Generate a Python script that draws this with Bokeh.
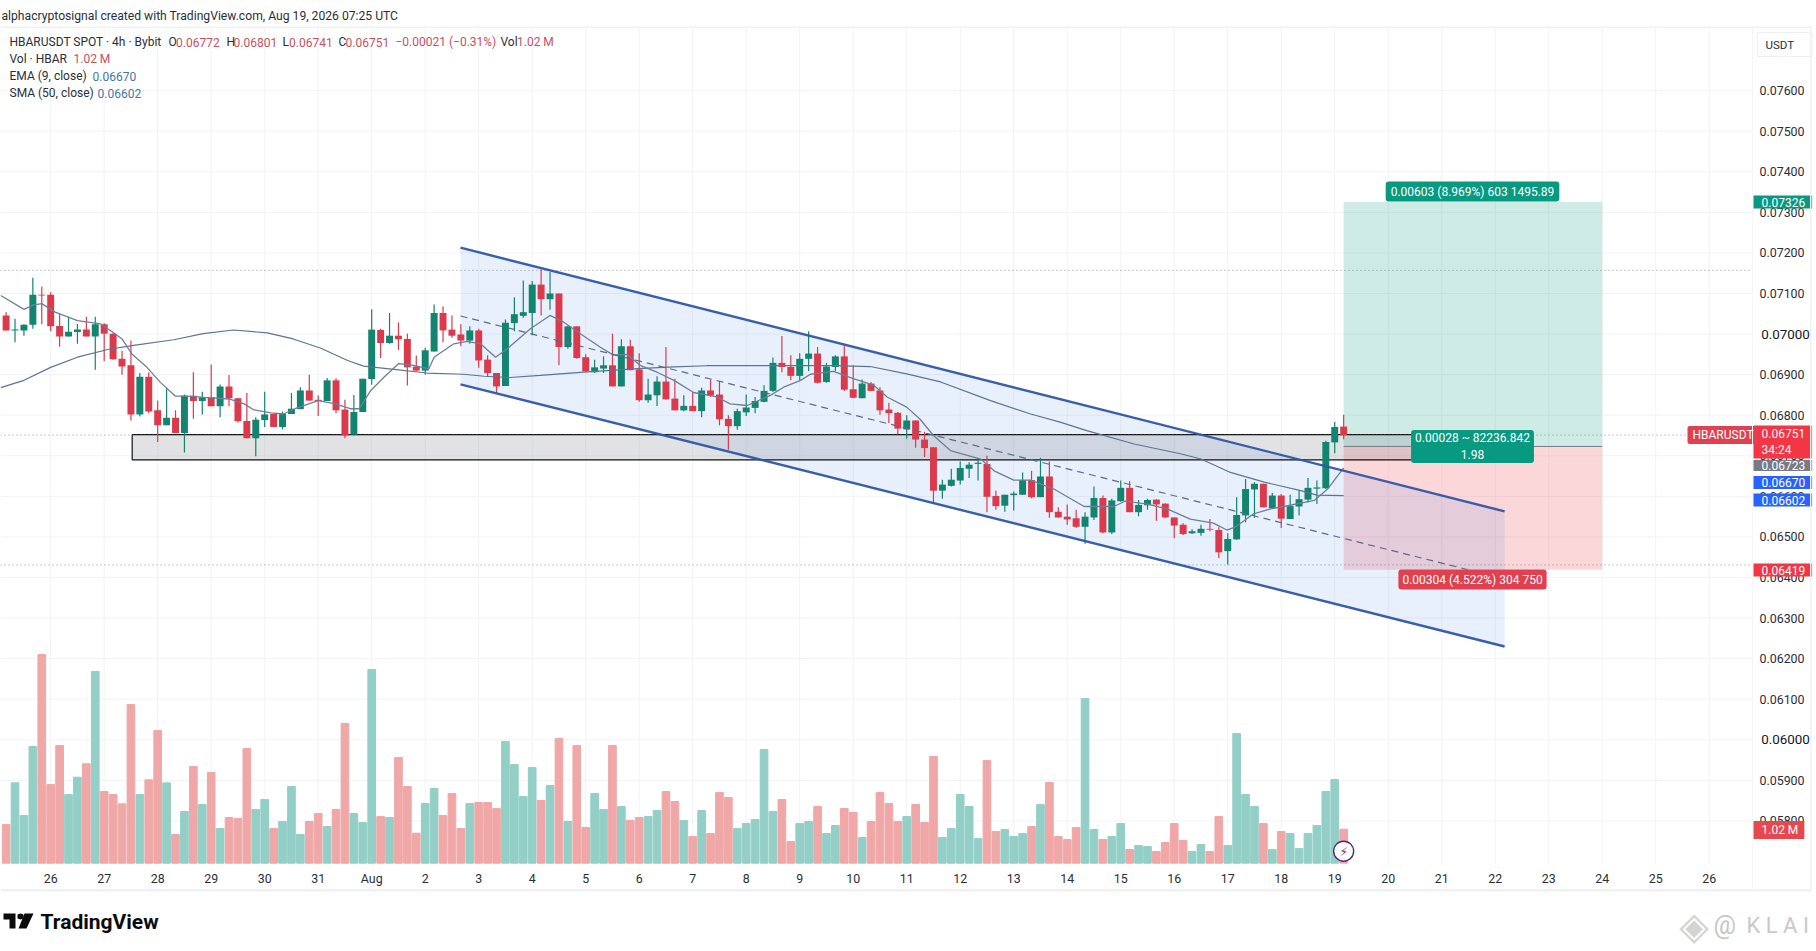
from bokeh.plotting import figure
from bokeh.models import Range1d, LinearAxis, FixedTicker, Label, PolyAnnotation
from bokeh.embed import file_html
from bokeh.resources import INLINE

# ---------- data (prices in 1e-5 USDT, volume in thousands of HBAR) ----------
opens = [7046,7009,7009,7023,7097,7097,7020,6994,7005,7011,
 6994,7024,7001,6939,6923,6802,6895,6812,6775,6794,
 6756,6848,6835,6844,6822,6871,6842,6786,6743,6788,
 6803,6771,6803,6815,6861,6838,6835,6886,6814,6752,
 6808,6889,7010,6978,6996,6988,6920,6910,6957,7052,
 7011,6999,6984,7009,6937,6904,6872,7027,7045,7052,
 7122,7086,7100,6968,7019,6943,6906,6915,6923,6871,
 6970,6913,6837,6849,6883,6841,6812,6823,6810,6861,
 6851,6791,6773,6807,6818,6833,6860,6929,6919,6897,
 6939,6952,6882,6919,6945,6864,6842,6878,6861,6814,
 6806,6765,6787,6740,6721,6614,6626,6639,6668,6680,
 6680,6601,6577,6603,6604,6640,6598,6649,6562,6550,
 6546,6525,6548,6596,6511,6588,6621,6561,6578,6592,
 6582,6548,6530,6509,6510,6520,6517,6465,6494,6553,
 6617,6631,6571,6602,6544,6575,6592,6619,6620,6733,6772]
highs = [7054,7038,7024,7139,7117,7103,7050,7043,7025,7043,
 7043,7027,7002,6958,6984,6904,6906,6836,6867,6812,
 6851,6906,6858,6925,6876,6899,6843,6855,6795,6858,
 6803,6809,6855,6869,6900,6849,6892,6891,6838,6850,
 6890,7061,7013,7052,7029,7001,6947,6966,7073,7068,
 7046,7024,7019,7013,6948,6904,7036,7091,7132,7131,
 7159,7153,7100,7021,7019,6950,6937,6945,7001,6987,
 6986,6953,6890,6896,6968,6890,6849,6857,6868,6888,
 6884,6800,6816,6851,6845,6874,6942,6995,6948,6953,
 7007,6968,6929,6948,6972,6923,6888,6882,6869,6831,
 6808,6800,6787,6759,6721,6641,6668,6686,6684,6690,
 6700,6614,6604,6612,6659,6663,6695,6686,6573,6580,
 6567,6561,6624,6602,6594,6639,6637,6591,6594,6593,
 6583,6548,6534,6519,6530,6544,6524,6509,6598,6643,
 6635,6631,6608,6606,6604,6614,6645,6639,6737,6783,6801]
lows = [7009,6980,6996,7013,7024,7007,6969,6994,6976,6994,
 6912,6933,6937,6900,6787,6797,6805,6734,6775,6756,
 6708,6791,6802,6822,6795,6822,6782,6743,6699,6771,
 6771,6765,6803,6815,6836,6798,6835,6805,6743,6750,
 6808,6875,6941,6976,6961,6873,6909,6900,6957,6980,
 6991,6970,6976,6917,6894,6855,6872,7007,7040,6997,
 7046,7060,6923,6964,6939,6906,6904,6904,6871,6871,
 6911,6833,6831,6823,6839,6812,6810,6810,6795,6845,
 6775,6715,6764,6798,6805,6832,6857,6906,6886,6886,
 6909,6878,6880,6909,6860,6842,6842,6859,6801,6781,
 6754,6742,6720,6697,6585,6594,6624,6629,6645,6639,
 6561,6567,6562,6565,6604,6595,6598,6547,6547,6530,
 6522,6483,6542,6509,6507,6587,6561,6551,6567,6540,
 6547,6497,6505,6507,6503,6514,6448,6432,6493,6536,
 6547,6573,6569,6522,6544,6553,6585,6581,6618,6706,6741]
closes = [7009,7011,7023,7097,7095,7019,6994,7006,7011,6994,
 7024,7001,6938,6920,6802,6895,6809,6775,6794,6756,
 6848,6835,6844,6822,6871,6842,6785,6743,6789,6802,
 6771,6803,6816,6861,6836,6835,6886,6812,6750,6808,
 6890,7011,6978,6996,6987,6918,6910,6960,7052,7009,
 6996,6984,7009,6935,6904,6871,7028,7049,7054,7122,
 7086,7100,6968,7019,6941,6908,6918,6923,6871,6970,
 6911,6837,6851,6883,6839,6812,6823,6810,6861,6849,
 6790,6773,6810,6819,6835,6860,6929,6919,6897,6939,
 6952,6880,6920,6945,6863,6843,6878,6860,6812,6805,
 6767,6787,6740,6719,6614,6629,6641,6670,6678,6683,
 6599,6576,6604,6607,6640,6598,6649,6561,6548,6543,
 6525,6550,6596,6511,6590,6621,6561,6579,6591,6580,
 6548,6528,6507,6514,6520,6518,6462,6495,6554,6618,
 6631,6573,6602,6545,6576,6593,6621,6622,6734,6771,6751]
volumes = [1160,2410,1430,3500,6260,2360,3530,2060,2580,2980,
 5750,2150,2060,1780,4760,2060,2500,3980,2410,860,
 1550,2900,1760,2720,1040,1370,1340,3440,1610,1910,
 1040,1250,2300,860,1250,1490,1100,1610,4190,1490,
 1220,5810,1400,1370,3170,2300,900,1790,2240,1430,
 2090,1040,1790,1820,1820,1640,3650,2960,2000,2870,
 1880,2330,3740,1250,3530,1070,2090,1610,3530,1700,
 1280,1370,1400,1580,2150,1850,1280,800,1580,890,
 2120,1970,1040,1190,1310,3410,1550,1910,650,1190,
 1250,1700,890,1130,1640,1520,770,1250,2120,1790,
 1250,1400,1760,1220,3200,770,1040,2060,1700,740,
 3080,950,1010,800,890,1100,1760,2420,800,710,
 1070,4940,1010,710,800,1190,410,530,500,350,
 620,1190,680,350,560,350,1400,530,3890,2060,
 1700,1190,410,950,890,440,890,1130,2150,2510,1020]

sma_bar = [0.4,3,6,9,12.4,15.3,19.8,23.1,26.5,30.3,33.2,36.3,39.3,41.1,44.5,48.2,52.3,54.6,57.5,60.9,65.8,71.8,75.9,79.6,87.1,93.8,97.9,102,105.8,111.4,115.9,119.2,122.2,127.5,132.7,135,138.3,142.1,146.2,148,151]
sma_val = [6868,6886,6918,6943,6962,6972,6986,7001,7010,7003,6988,6965,6935,6921,6913,6904,6901,6896,6893,6898,6906,6915,6919,6922,6922,6922,6920,6902,6882,6836,6803,6783,6762,6729,6705,6692,6659,6635,6614,6603,6602]
ema_bar = [0.4,3,4.1,5,6.5,9,11.6,12.7,14,15.1,16.8,18.3,20,21.3,23.2,26,27.7,28.8,30.7,32.1,33.4,36,37.9,39.6,40.6,41.9,43.4,45,46.7,48.4,49,51.2,52.7,54.2,55.9,57.2,59.8,62,63.5,65.4,67.6,69.1,70.6,72.1,74,75.9,78.1,80.7,82.2,84.1,86.7,88.2,90.1,91.2,93.8,96,98.3,99.8,102,103.5,105,106.9,110.3,111.8,114,115.9,118.5,121.9,123,125.2,126.5,129,131.2,133.8,136.4,137.9,138.9,140.9,142.8,144.3,147.7,149.2,151]
ema_val = [7095,7061,7072,7075,7054,7033,7025,7009,6988,6951,6918,6881,6847,6847,6844,6840,6828,6813,6806,6803,6816,6836,6828,6816,6816,6861,6894,6927,6923,6914,6943,6976,6982,6976,6943,6964,7013,7046,7030,7001,6968,6948,6950,6923,6906,6886,6856,6845,6828,6824,6849,6869,6886,6901,6908,6890,6874,6845,6820,6790,6750,6713,6692,6663,6640,6640,6618,6575,6575,6575,6588,6581,6569,6544,6534,6517,6525,6557,6569,6575,6590,6618,6670]

price_labels = ["0.05800","0.05900","0.06000","0.06100","0.06200","0.06300","0.06400","0.06500","0.06600","0.06700","0.06800","0.06900","0.07000","0.07100","0.07200","0.07300","0.07400","0.07500","0.07600"]
bold_prices = ["0.06000","0.07000"]
day_labels = ["26","27","28","29","30","31","Aug","2","3","4","5","6","7","8","9","10","11","12","13","14","15","16","17","18","19","20","21","22","23","24","25","26"]
day_bars = [6 + 6 * k for k in range(len(day_labels))]

channel_bar = [51.96, 169.05]
channel_top = [0.07213, 0.06563]
channel_bot = [0.06876, 0.0623]
zone_bar = [15.14, 159.6]
zone_price = [0.0669, 0.06752]
level_prices = [0.07157, 0.06751, 0.06431]
trade_bar = [151, 180]
trade_target, trade_entry, trade_stop = 0.07326, 0.06723, 0.06419

GREEN, RED = "#12846f", "#db3a4d"
VGREEN, VRED = "#93cfc7", "#f0a7a7"
LINE = "#2f55a4"
FONT = "Roboto"
GRID = "#f2f3f5"

def xd(px): return 1 + (px - 5.6) / 8.917
def yd(py): return 0.074 - (py - 171.3) / 40570

# the frame fills the page; the pane edges are at pixel 1752 (right) and 864 (bottom)
XR, YB = xd(1752), yd(864)
YT = yd(27)
p = figure(width=1816, height=951, output_backend="svg", toolbar_location=None,
           x_range=Range1d(xd(0), xd(1816)), y_range=Range1d(yd(951), yd(0)),
           x_axis_location=None, y_axis_location=None,
           min_border_left=0, min_border_right=0, min_border_top=0, min_border_bottom=0,
           outline_line_color=None, background_fill_color="white", border_fill_color="white")
p.grid.visible = False

n = len(opens)
bars = list(range(1, n + 1))
o = [v / 1e5 for v in opens]; h = [v / 1e5 for v in highs]
l = [v / 1e5 for v in lows]; c = [v / 1e5 for v in closes]
up = [a >= b for a, b in zip(closes, opens)]

# axes pinned at the pane edges
ticks = [float(s) for s in price_labels]
ya = LinearAxis(fixed_location=XR, ticker=FixedTicker(ticks=ticks),
                major_label_overrides={float(s): ("" if s in bold_prices else s) for s in price_labels})
xa = LinearAxis(fixed_location=YB, ticker=FixedTicker(ticks=day_bars),
                major_label_overrides=dict(zip(day_bars, day_labels)))
for ax in (xa, ya):
    ax.axis_line_color = None
    ax.major_tick_line_color = None
    ax.minor_tick_line_color = None
    ax.major_label_text_font = FONT
    ax.major_label_text_font_size = "12.4px"
    ax.major_label_text_color = "#2a2e39"
xa.major_label_standoff = 0
ya.major_label_standoff = 1
p.add_layout(ya, "right")
p.add_layout(xa, "below")

# grid rules limited to the pane
p.segment(x0=day_bars, x1=day_bars, y0=YB, y1=YT, line_color=GRID, line_width=1)
p.segment(x0=xd(0), x1=XR, y0=ticks, y1=ticks, line_color=GRID, line_width=1)

# volume on own scale: 30 thousand per pixel, base at pixel 862.7
p.extra_y_ranges["vol"] = Range1d(-(951 - 862.7) * 30, 862.7 * 30)
p.vbar(x=bars, top=volumes, bottom=0, width=0.86, y_range_name="vol",
       color=[VGREEN if u else VRED for u in up])

# position tool, channel fill, zone
p.quad(left=trade_bar[0], right=trade_bar[1], bottom=trade_entry, top=trade_target,
       fill_color="#089981", fill_alpha=0.2, line_color=None)
p.quad(left=trade_bar[0], right=trade_bar[1], bottom=trade_stop, top=trade_entry,
       fill_color="#f23645", fill_alpha=0.2, line_color=None)
p.segment(x0=trade_bar[0], x1=trade_bar[1], y0=trade_entry, y1=trade_entry, line_color="#787b86", line_width=1)
p.patch(x=[channel_bar[0], channel_bar[1], channel_bar[1], channel_bar[0]],
        y=[channel_top[0], channel_top[1], channel_bot[1], channel_bot[0]],
        fill_color="#1f6fe0", fill_alpha=0.1, line_color=None)
p.quad(left=zone_bar[0], right=zone_bar[1], bottom=zone_price[0], top=zone_price[1],
       fill_color="#787b86", fill_alpha=0.22, line_color="#111111", line_width=1.2)
for lv in level_prices:
    p.segment(x0=xd(0), x1=XR, y0=lv, y1=lv, line_color="#8a8d96", line_width=1, line_dash="1 3")

# candles
p.segment(x0=bars, x1=bars, y0=l, y1=h, line_width=1.2, color=[GREEN if u else RED for u in up])
p.vbar(x=bars, top=[max(a, b) for a, b in zip(o, c)], bottom=[min(a, b) for a, b in zip(o, c)],
       width=0.78, color=[GREEN if u else RED for u in up], line_width=0)

# indicators
p.line(sma_bar, [v / 1e5 for v in sma_val], line_color="#5d7396", line_width=1.2)
p.line(ema_bar, [v / 1e5 for v in ema_val], line_color="#6d7f98", line_width=1.3)

# channel lines
p.line(channel_bar, channel_top, line_color=LINE, line_width=2.4, line_alpha=0.95)
p.line(channel_bar, channel_bot, line_color=LINE, line_width=2.4, line_alpha=0.95)
p.line(channel_bar, [(a + b) / 2 for a, b in zip(channel_top, channel_bot)],
       line_color="#5d6b86", line_width=1.2, line_dash="7 5")

# lightning marker
p.scatter([151], [yd(850.7)], size=20, fill_color="white", line_color="#4b2a7c", line_width=1.4)

def lab(px, py, text, size=12, color="#2a2e39", align="left", bold=False, font=FONT, **kw):
    p.add_layout(Label(x=xd(px), y=yd(py), text=text, text_font=font,
                       text_font_size=f"{size}px", text_color=color, text_align=align,
                       text_baseline="middle", text_font_style="bold" if bold else "normal", **kw))

def poly(pts, color):
    p.add_layout(PolyAnnotation(xs=[xd(a) for a, _ in pts], ys=[yd(b) for _, b in pts],
                                fill_color=color, fill_alpha=1, line_color=None))

lab(1343.3, 851, "⚡", size=12, color="#6a2c91", align="center", font="DejaVu Sans")

# header
lab(1, 15, "alphacryptosignal created with TradingView.com, Aug 19, 2026 07:25 UTC", size=12.15)
LEG_RED, LEG_BLUE = "#c9505f", "#3f77a8"
lab(9, 41.7, "HBARUSDT SPOT · 4h · Bybit")
for px, t in [(168, "O"), (226, "H"), (282, "L"), (338, "C"), (500, "Vol")]:
    lab(px, 41.7, t)
for px, t in [(175.5, "0.06772"), (233, "0.06801"), (288.5, "0.06741"), (345, "0.06751"), (395, "−0.00021 (−0.31%)"), (516.5, "1.02 M")]:
    lab(px, 41.7, t, color=LEG_RED)
lab(9, 58.7, "Vol · HBAR"); lab(73, 58.7, "1.02 M", color=LEG_RED)
lab(9, 75.7, "EMA (9, close)"); lab(92, 75.7, "0.06670", color=LEG_BLUE)
lab(9, 92.7, "SMA (50, close)"); lab(97, 92.7, "0.06602", color=LEG_BLUE)

# bold round price ticks
for s in bold_prices:
    py = 171.3 + (0.074 - float(s)) * 40570
    lab(1760.7, py, s, size=13.4, color="#131722")

# USDT box
lab(1757, 44, "USDT", size=11.5, border_line_color="#f0f1f3",
    background_fill_color="white", padding=(8, 18, 5, 5))

# trade labels (padding: left, right, top, bottom)
TG, TR = "#089981", "#e0404f"
lab(1472, 191, "0.00603 (8.969%) 603 1495.89", color="white", align="center", background_fill_color=TG, border_radius=3, padding=(5, 5, 3, 3))
lab(1472, 446, "0.00028 ~ 82236.842\n1.98", color="white", align="center", background_fill_color=TG, border_radius=3, padding=(4, 4, 1, 1))
lab(1472, 579, "0.00304 (4.522%) 304 750", color="white", align="center", background_fill_color=TR, border_radius=3, padding=(4, 4, 3, 3))

# price tags
lab(1753, 201.5, "0.07326", color="white", background_fill_color=TG, padding=(8, 7, 2, 2))
lab(1753, 441.5, "0.06751\n34:24", color="#fff4f4", background_fill_color="#f23645", padding=(8, 7, 1, 1))
lab(1753, 465, "0.06723", color="white", background_fill_color="#787b86", padding=(8, 7, 1, 1))
lab(1753, 482, "0.06670", color="white", background_fill_color="#2962ff", padding=(8, 7, 2, 2))
lab(1753, 499.5, "0.06602", color="white", background_fill_color="#2962ff", padding=(8, 7, 2, 2))
lab(1753, 569.5, "0.06419", color="white", background_fill_color="#f23645", padding=(8, 7, 2, 2))
lab(1753, 829.5, "1.02 M", color="white", background_fill_color="#e5484d", padding=(8, 6, 2, 2))
lab(1687, 434.5, "HBARUSDT", color="white", background_fill_color="#e0404f", border_radius=2, padding=(5, 4, 2, 2))

# borders
poly([(0, 888.5), (1810, 888.5), (1810, 891), (0, 891)], "#f0f1f3")
poly([(0, 26), (1810, 26), (1810, 27.5), (0, 27.5)], "#f0f1f3")
poly([(1809.5, 26), (1811, 26), (1811, 891), (1809.5, 891)], "#f0f1f3")
poly([(1751.5, 27), (1752.5, 27), (1752.5, 888), (1751.5, 888)], "#f5f5f7")

# TradingView logo
poly([(3, 913), (15, 913), (15, 928), (9, 928), (9, 919), (3, 919)], "#0b0b0b")
poly([(17, 914), (20, 913), (23, 914), (23, 918), (20, 919), (17, 918)], "#0b0b0b")
poly([(24, 913), (33, 913), (26, 928), (18, 928)], "#0b0b0b")
lab(40, 921, "TradingView", size=21, color="#0b0b0b", bold=True)

# watermark
lab(1679, 925, "◈", size=38, color="#d4d4d4", font="DejaVu Sans")
lab(1713, 925, "@", size=25, color="#c6c6c6")
lab(1746, 925, "K L A I", size=22, color="#c9c9c9")

open("out.html", "w").write(file_html(p, INLINE))
